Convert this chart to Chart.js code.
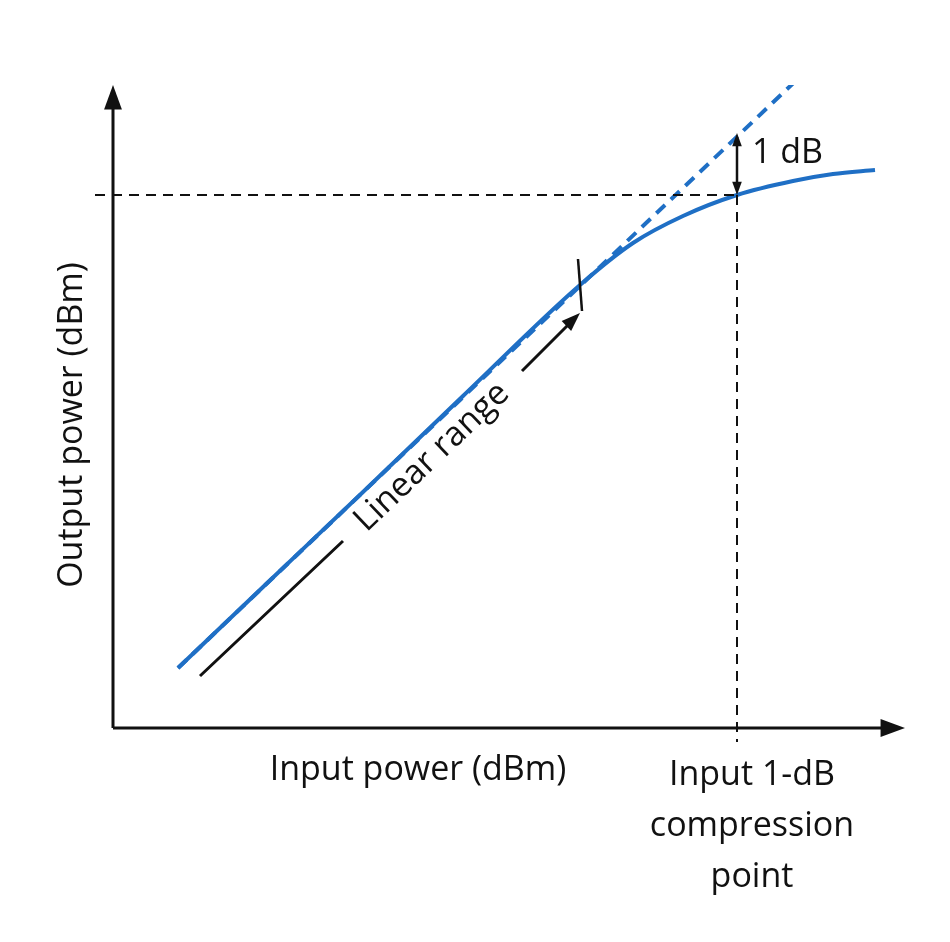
<!DOCTYPE html>
<html><head><meta charset="utf-8">
<script src="https://cdn.jsdelivr.net/npm/chart.js@4"></script>
<style>body{margin:0;background:#fff}</style>
</head><body>
<canvas id="c" width="950" height="942"></canvas>
<script>
// Output vs input power (arbitrary units, axes hidden)
const curveX = [65, 150, 250, 350, 467, 520, 570, 624, 680, 720, 762];
const curveY = [60, 141, 236, 332, 443, 485, 512, 533, 547, 554, 558];
const idealX = [65, 692];
const idealY = [60, 656];
const p1dbX = 624, p1dbY = 533, idealAtP1 = 595;
const linearEndX = 467;

const blue = '#1f6fc5';
const font = '"Open Sans", sans-serif';

const overlay = {
    id: 'overlay',
    afterDatasetsDraw(chart) {
        const ctx = chart.ctx, xs = chart.scales.x, ys = chart.scales.y;
        const X = v => xs.getPixelForValue(v), Y = v => ys.getPixelForValue(v);
        const a = chart.chartArea;
        ctx.save();
        ctx.strokeStyle = '#111'; ctx.fillStyle = '#111'; ctx.lineWidth = 3;
        const head = (x, y, ang, s) => {
            ctx.beginPath();
            ctx.moveTo(x, y);
            ctx.lineTo(x - s * Math.cos(ang - 0.35), y - s * Math.sin(ang - 0.35));
            ctx.lineTo(x - s * Math.cos(ang + 0.35), y - s * Math.sin(ang + 0.35));
            ctx.closePath(); ctx.fill();
        };
        // axes
        ctx.beginPath(); ctx.moveTo(a.left, a.bottom); ctx.lineTo(a.left, a.top + 10);
        ctx.moveTo(a.left, a.bottom); ctx.lineTo(a.right - 10, a.bottom); ctx.stroke();
        head(a.left, a.top, -Math.PI / 2, 26);
        head(a.right, a.bottom, 0, 26);
        // dashed guides
        ctx.lineWidth = 2; ctx.setLineDash([10, 7]);
        ctx.beginPath();
        ctx.moveTo(a.left - 18, Y(p1dbY)); ctx.lineTo(X(p1dbX), Y(p1dbY));
        ctx.moveTo(X(p1dbX), Y(p1dbY)); ctx.lineTo(X(p1dbX), a.bottom + 14);
        ctx.stroke(); ctx.setLineDash([]);
        // 1 dB double arrow
        ctx.lineWidth = 2.5;
        ctx.beginPath(); ctx.moveTo(X(p1dbX), Y(idealAtP1) + 8); ctx.lineTo(X(p1dbX), Y(p1dbY) - 8); ctx.stroke();
        head(X(p1dbX), Y(idealAtP1), -Math.PI / 2, 14);
        head(X(p1dbX), Y(p1dbY), Math.PI / 2, 14);
        // linear range end tick
        const ex = X(linearEndX), ey = Y(443);
        ctx.beginPath(); ctx.moveTo(ex - 2, ey - 26); ctx.lineTo(ex + 2, ey + 26); ctx.stroke();
        // linear range arrow + text
        const ang = Math.atan2(Y(443) - Y(60), X(467) - X(65));
        ctx.lineWidth = 3;
        ctx.beginPath(); ctx.moveTo(200, 676); ctx.lineTo(343, 541);
        ctx.moveTo(522, 371); ctx.lineTo(570, 323); ctx.stroke();
        head(580, 313, ang, 20);
        ctx.translate(432, 457); ctx.rotate(ang);
        ctx.font = '34px ' + font; ctx.textAlign = 'center'; ctx.textBaseline = 'middle';
        ctx.fillText('Linear range', 0, 0);
        ctx.restore();
        // labels
        ctx.save();
        ctx.fillStyle = '#111'; ctx.font = '34px ' + font; ctx.textAlign = 'center';
        ctx.textBaseline = 'middle';
        ctx.fillText('Input power (dBm)', 418, 770);
        ctx.fillText('Input 1-dB', 752, 775);
        ctx.fillText('compression', 752, 826);
        ctx.fillText('point', 752, 877);
        ctx.textAlign = 'left';
        ctx.fillText('1 dB', 752, 153);
        ctx.translate(72, 425); ctx.rotate(-Math.PI / 2);
        ctx.textAlign = 'center';
        ctx.fillText('Output power (dBm)', 0, 0);
        ctx.restore();
    }
};

new Chart(document.getElementById('c'), {
    type: 'scatter',
    data: {
        datasets: [{
            data: idealX.map((x, i) => ({ x, y: idealY[i] })),
            showLine: true, borderColor: blue, borderWidth: 4, borderDash: [12, 8],
            pointRadius: 0
        }, {
            data: curveX.map((x, i) => ({ x, y: curveY[i] })),
            showLine: true, borderColor: blue, borderWidth: 4, cubicInterpolationMode: 'monotone',
            pointRadius: 0
        }]
    },
    options: {
        responsive: false, animation: false,
        layout: { padding: { left: 113, right: 45, top: 85, bottom: 214 } },
        scales: {
            x: { type: 'linear', min: 0, max: 792, display: false },
            y: { type: 'linear', min: 0, max: 643, display: false }
        },
        plugins: { legend: { display: false }, tooltip: { enabled: false } }
    },
    plugins: [overlay]
});
</script>
</body></html>
